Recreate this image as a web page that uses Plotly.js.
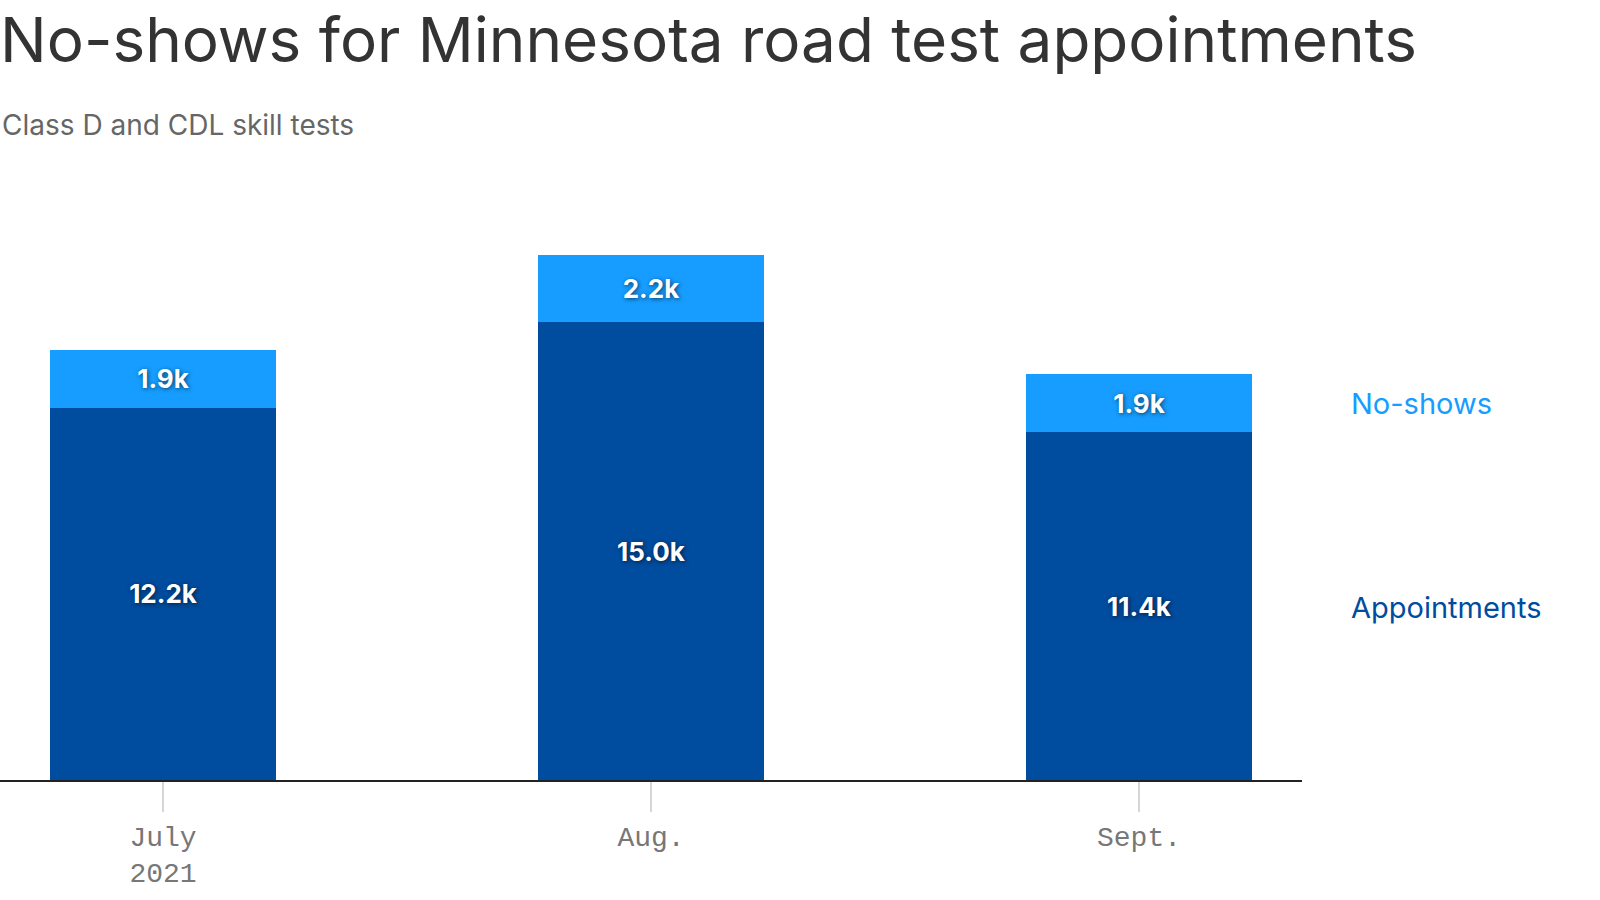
<!DOCTYPE html>
<html>
<head>
<meta charset="utf-8">
<script src="https://cdn.plot.ly/plotly-3.0.1.min.js"></script>
<style>html,body{margin:0;padding:0;background:#fff;}#chart{width:1600px;height:900px;}</style>
</head>
<body>
<div id="chart"></div>
<script>
const months = ["July<br>2021", "Aug.", "Sept."];
const appointments = [12.2, 15.0, 11.4];
const noShows = [1.9, 2.2, 1.9];
const seriesNames = ["Appointments", "No-shows"];

const labelFont = {family: "Inter, 'Noto Sans', sans-serif", size: 26, color: "#ffffff", weight: 700,
  shadow: "1px 1px 4px rgba(0,0,0,0.6)"};

const traces = [
  {type: "bar", name: seriesNames[0], x: months, y: appointments,
   marker: {color: "#004c9e"}, texttemplate: "%{y:.1f}k", textposition: "inside",
   insidetextanchor: "middle", textfont: labelFont, hoverinfo: "skip", textangle: 0},
  {type: "bar", name: seriesNames[1], x: months, y: noShows,
   marker: {color: "#169dff"}, texttemplate: "%{y:.1f}k", textposition: "inside",
   insidetextanchor: "middle", textfont: labelFont, hoverinfo: "skip", textangle: 0}
];

const layout = {
  width: 1600, height: 900,
  margin: {l: 0, r: 298, t: 180, b: 120},
  paper_bgcolor: "#ffffff", plot_bgcolor: "#ffffff",
  barmode: "stack", bargap: 0.535, showlegend: false,
  title: {text: "No-shows for Minnesota road test appointments",
    x: 0, xref: "container", xanchor: "left", y: 0.955, yref: "container", yanchor: "middle",
    font: {family: "Inter, 'Noto Sans', sans-serif", size: 62, color: "#333333"}},
  xaxis: {type: "category", range: [-0.334, 2.334], showline: true, linecolor: "#222222", linewidth: 2,
    ticks: "outside", ticklen: 30, tickwidth: 2, tickcolor: "#d6d6d6", showgrid: false, zeroline: false,
    tickfont: {family: "'Liberation Mono', 'DejaVu Sans Mono', monospace", size: 28, color: "#777777"}},
  yaxis: {range: [0, 19.67], visible: false, showgrid: false, zeroline: false},
  annotations: [
    {text: "Class D and CDL skill tests", xref: "paper", yref: "paper", x: 0, y: 1.0917,
     xanchor: "left", yanchor: "middle", showarrow: false,
     font: {family: "Inter, 'Noto Sans', sans-serif", size: 28, color: "#666666"}},
    {text: seriesNames[1], xref: "paper", yref: "paper", x: 1.036, y: 0.627,
     xanchor: "left", yanchor: "middle", showarrow: false,
     font: {family: "Inter, 'Noto Sans', sans-serif", size: 29, color: "#169dff"}},
    {text: seriesNames[0], xref: "paper", yref: "paper", x: 1.036, y: 0.288,
     xanchor: "left", yanchor: "middle", showarrow: false,
     font: {family: "Inter, 'Noto Sans', sans-serif", size: 29, color: "#004c9e"}}
  ]
};

Plotly.newPlot("chart", traces, layout, {displayModeBar: false, staticPlot: true});
</script>
</body>
</html>
